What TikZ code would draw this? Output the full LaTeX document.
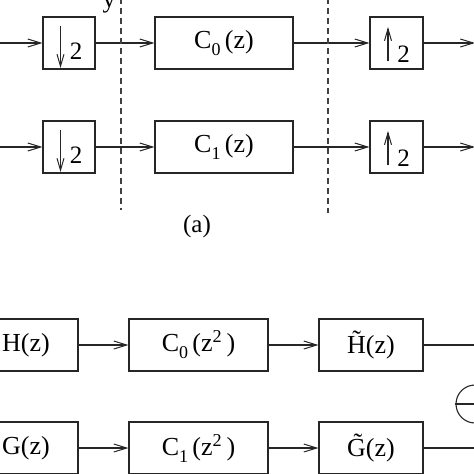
\documentclass[tikz,border=0pt]{standalone}
\usepackage{fontspec}
\setmainfont{Liberation Serif}
\usetikzlibrary{arrows.meta}
\newcommand{\lowsub}[1]{\raisebox{-7pt}{\fontsize{18}{18}\selectfont #1}}
\begin{document}
\begin{tikzpicture}[x=1pt,y=-1pt,line width=1.1pt,draw=black!85,
		>={Straight Barb[length=13pt,width=8pt,line width=1pt]}]
		\tikzstyle{every node}+=[inner sep=0pt,font=\fontsize{26}{30}\selectfont]
		\tikzstyle{box}=[draw=black!85,minimum height=52pt]
		\tikzstyle{ratio}=[font=\fontsize{25}{28}\selectfont]
		\tikzstyle{rarrow}=[-{Straight Barb[length=12pt,width=7pt,line width=1pt]}]
		\tikzstyle{cut}=[draw=black!75,line width=1.2pt,dash pattern=on 6pt off 4pt]
		\useasboundingbox (0,0) rectangle (474,474);
		% (a): analysis bank, down 2, filters, up 2
		\node [box,minimum width=52pt] (d0) at (69,43) {};
		\node [box,minimum width=52pt] (d1) at (69,147) {};
		\node [box,minimum width=138pt] (c0) at (224,43) {C\lowsub{0}\,(z)};
		\node [box,minimum width=138pt] (c1) at (224,147) {C\lowsub{1}\,(z)};
		\node [box,minimum width=53pt] (u0) at (396.5,43) {};
		\node [box,minimum width=53pt] (u1) at (396.5,147) {};
		\node [ratio] (d0n) at (76,51.5) {2};
		\node [ratio] (d1n) at (76,155.5) {2};
		\node [ratio] (u0n) at (403.5,54) {2};
		\node [ratio] (u1n) at (403.5,158) {2};
		\draw [rarrow] (d0.center) ++(-8.5,-17) -- ++(0,42);
		\draw [rarrow] (d1.center) ++(-8.5,-17) -- ++(0,42);
		\draw [rarrow] (u0.center) ++(-8.5,18) -- ++(0,-34);
		\draw [rarrow] (u1.center) ++(-8.5,18) -- ++(0,-34);
		\coordinate (in0) at (-2,43);
		\coordinate (in1) at (-2,147);
		\coordinate (out0) at (475,43);
		\coordinate (out1) at (475,147);
		\draw [->] (in0) -- (d0);
		\draw [->] (in1) -- (d1);
		\draw [->] (d0) -- (c0);
		\draw [->] (d1) -- (c1);
		\draw [->] (c0) -- (u0);
		\draw [->] (c1) -- (u1);
		\draw [->] (u0) -- (out0);
		\draw [->] (u1) -- (out1);
		\coordinate (cutA1) at (121,-2);
		\coordinate (cutA2) at (121,210);
		\coordinate (cutB1) at (328,-2);
		\coordinate (cutB2) at (328,213);
		\draw [cut] (cutA1) -- (cutA2);
		\draw [cut] (cutB1) -- (cutB2);
		\node [anchor=base] (ylab) at (109,7) {y};
		\node [font=\fontsize{25}{28}\selectfont] (alab) at (197,226) {(a)};
		% (b): equivalent filters
		\node [box,minimum width=104pt] (h) at (26,345) {H(z)};
		\node [box,minimum width=104pt] (g) at (26,448) {G(z)};
		\node [box,minimum width=139pt] (hc) at (198.5,345) {C\lowsub{0}\,(z\textsuperscript{2}\,)};
		\node [box,minimum width=139pt] (gc) at (198.5,448) {C\lowsub{1}\,(z\textsuperscript{2}\,)};
		\node [box,minimum width=104pt] (ht) at (371,345) {\~{H}(z)};
		\node [box,minimum width=104pt] (gt) at (371,448) {\~{G}(z)};
		\node [draw=black!85,circle,minimum size=38pt] (sum) at (475,404) {};
		\coordinate (hout) at (476,345);
		\coordinate (gout) at (476,448);
		\draw [->] (h) -- (hc);
		\draw [->] (g) -- (gc);
		\draw [->] (hc) -- (ht);
		\draw [->] (gc) -- (gt);
		\draw (ht) -- (hout);
		\draw (gt) -- (gout);
		\draw (sum.west) -- (sum.east);
	\end{tikzpicture}
\end{document}
